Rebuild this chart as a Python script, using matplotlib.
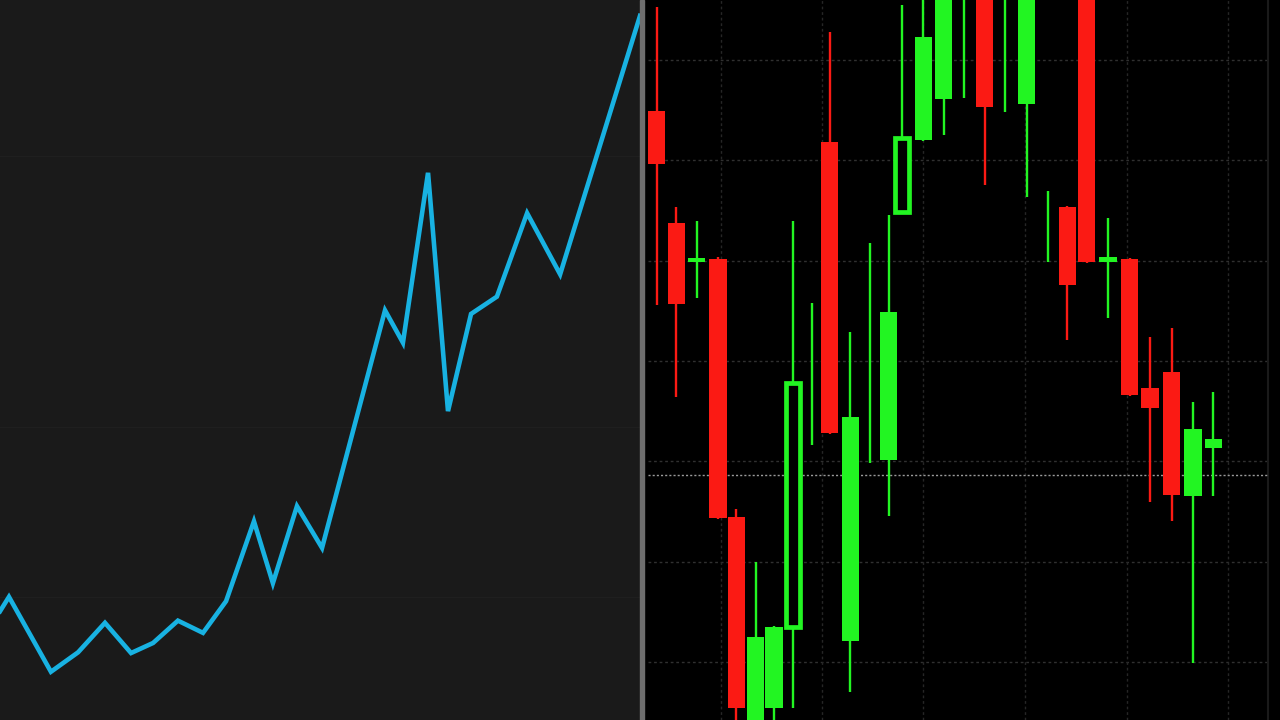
import matplotlib.pyplot as plt
from matplotlib.patches import Rectangle

# left panel: price line
line_t = [0, 0.35, 1.99, 3.05, 4.10, 5.12, 5.98, 6.95, 7.93, 8.83, 9.92, 10.66,
          11.60, 12.58, 15.04, 15.74, 16.72, 17.50, 18.40, 19.41, 20.59, 21.88, 25.0]
line_v = [15.1, 17.1, 6.7, 9.4, 13.5, 9.3, 10.7, 13.8, 12.1, 16.5, 27.6, 19.0,
          29.7, 23.9, 56.9, 52.4, 76.0, 42.9, 56.4, 58.8, 70.4, 61.9, 97.8]
left_grid = [17.1, 40.7, 78.3]

# right panel: candles
bar_x = [0.0, 0.94, 1.97, 3.01, 3.90, 4.88, 5.77, 6.71, 7.64, 8.53, 9.52, 10.50,
         11.44, 12.08, 13.12, 14.15, 15.14, 16.17, 17.16, 18.24, 19.28, 20.22,
         21.20, 22.24, 23.32, 24.31, 25.39, 26.43, 27.42]
opens = [154.9, 143.8, 139.9, 140.2, 114.4, 93.5, 95.4, 103.5, 132.0, 151.8, 102.1, 130.0,
         120.1, 144.9, 152.0, 156.1, 168.0, 170.0, 168.0, 155.6, 143.0, 145.4,
         170.0, 139.9, 140.2, 127.3, 128.9, 116.5, 121.3]
highs = [165.3, 145.4, 144.0, 140.4, 115.2, 110.0, 103.6, 144.0, 135.8, 162.8, 132.9, 141.8,
         144.6, 165.5, 167.0, 167.0, 171.0, 171.0, 171.0, 170.0, 147.0, 145.5,
         171.0, 144.3, 140.3, 132.4, 133.3, 125.9, 126.9]
lows = [135.6, 126.4, 136.3, 114.2, 93.0, 93.0, 94.0, 95.4, 121.6, 122.7, 97.0, 119.8,
        114.5, 144.8, 151.9, 152.5, 156.2, 147.6, 154.8, 146.4, 139.9, 132.1,
        139.8, 134.3, 126.5, 115.9, 114.0, 99.9, 116.5]
closes = [149.6, 135.7, 140.3, 114.3, 95.4, 102.5, 103.5, 127.8, 132.0, 122.8, 124.4, 130.0,
          134.9, 152.2, 162.3, 167.0, 170.0, 155.3, 170.0, 168.0, 143.0, 137.6,
          139.9, 140.4, 126.6, 125.3, 116.6, 123.2, 122.2]
hollow = [7, 13]
price_grid = [100, 110, 120, 130, 140, 150, 160]
time_grid = [3.15, 8.14, 13.12, 18.15, 23.18, 28.16]
last_price = 118.6

fig = plt.figure(figsize=(12.8, 7.2), dpi=100, facecolor='black')

ax1 = fig.add_axes([0, 0, 640 / 1280, 1])
ax1.set_facecolor('#1a1a1a')
for g in left_grid:
    ax1.axhline(g, color='#1f1f1f', lw=1, zorder=1)
ax1.plot(line_t, line_v, color='#18b2e2', lw=3.3, solid_joinstyle='miter', zorder=3)
ax1.set_xlim(0, 25)
ax1.set_ylim(0, 100)
ax1.set_xticks([])
ax1.set_yticks([])
for s in ax1.spines.values():
    s.set_visible(False)

ax2 = fig.add_axes([645 / 1280, 0, 635 / 1280, 1])
ax2.set_facecolor('black')
ax2.set_xlim(-0.59, 30.72)
ax2.set_ylim(94.2, 166.0)
ax2.hlines(price_grid, -0.45, 30.13, colors='#303030', lw=1, linestyles=(0, (2, 2)), zorder=1)
ax2.vlines(time_grid, 94.2, 166.0, colors='#262626', lw=1, linestyles=(0, (2, 2)), zorder=1)
ax2.axvline(30.13, color='#1a1a1a', lw=1.5, zorder=1)
ax2.hlines(last_price, -0.45, 30.13, colors='#9a9a9a', lw=1, linestyles=(0, (1.5, 1.5)), zorder=2)

for i in range(len(bar_x)):
    up = closes[i] >= opens[i]
    col = '#22f522' if up else '#fb1a14'
    ax2.vlines(bar_x[i], lows[i], highs[i], colors=col, lw=1.7, zorder=3)
    bottom = min(opens[i], closes[i])
    h = abs(closes[i] - opens[i])
    if h == 0:
        continue
    if i in hollow:
        ax2.add_patch(Rectangle((bar_x[i] - 0.34, bottom), 0.68, h, facecolor='black',
                                edgecolor=col, lw=3.4, zorder=4))
    else:
        ax2.bar(bar_x[i], h, bottom=bottom, width=0.84, color=col, lw=0, zorder=4)

ax2.set_xticks([])
ax2.set_yticks([])
for s in ax2.spines.values():
    s.set_visible(False)

# divider between the two panels
fig.add_artist(Rectangle((640 / 1280, 0), 4 / 1280, 1, transform=fig.transFigure,
                         color='#6e6e6e', zorder=10))

plt.savefig('out.png', dpi=100, facecolor='black')
